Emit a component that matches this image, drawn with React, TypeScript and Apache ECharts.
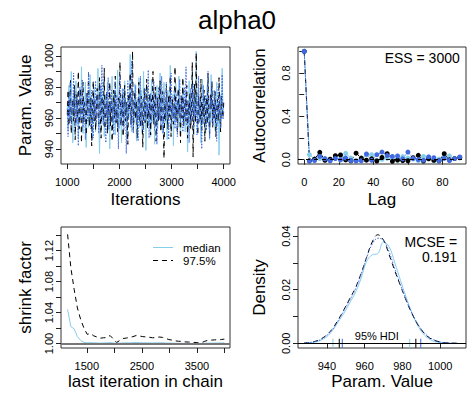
import React, { useEffect, useRef } from "react";
import * as echarts from "echarts";

// ---------------- data ----------------
const TITLE = "alpha0";
const CHAIN_COLORS = ["#87CEEB", "#000000", "#4169E1"];
const CHAIN_DASH: any[] = ["solid", [5, 4], [1.5, 1.5]];

const ITER_FIRST = 1001;
const ITER_LAST = 4000;

const TRACE_CHAIN1 = [
  970, 952, 981, 963, 958, 990, 966, 944, 975, 961, 969, 984, 955, 972, 947, 965, 978, 959, 993, 962,
  950, 971, 967, 983, 941, 960, 976, 954, 968, 988, 957, 973, 946, 964, 980, 962, 951, 974, 969, 992,
  959, 937, 966, 979, 956, 970, 985, 948, 963, 975, 960, 983, 952, 968, 940, 971, 964, 987, 955, 962,
  977, 949, 969, 958, 991, 966, 953, 973, 961, 944, 979, 967, 956, 984, 962, 970, 947, 975, 959, 968,
  1001, 963, 951, 976, 965, 957, 982, 969, 945, 972, 960, 986, 954, 967, 978, 950, 964, 990, 958, 971,
  939, 966, 980, 955, 973, 962, 948, 985, 968, 957, 976, 943, 964, 970, 981, 953, 967, 959, 989, 961,
  974, 950, 966, 983, 956, 971, 963, 946, 978, 960, 968, 994, 952, 965, 975, 942, 969, 957, 982, 963,
  971, 954, 987, 960, 948, 973, 966, 980, 958, 964, 951, 977, 969, 938, 962, 984, 955, 972, 961, 990,
  967, 949, 975, 958, 1003, 965, 953, 979, 960, 970, 944, 968, 985, 956, 963, 974, 950, 966, 981, 959,
  972, 946, 964, 988, 957, 969, 961, 978, 952, 967, 983, 955, 970, 936, 962, 975, 958, 992, 964, 968,
];
const TRACE_CHAIN2 = [
  962, 978, 955, 969, 985, 950, 966, 972, 958, 981, 946, 964, 975, 960, 990, 953, 968, 979, 944, 966,
  983, 957, 970, 962, 949, 976, 965, 988, 955, 960, 973, 942, 968, 984, 958, 971, 952, 966, 979, 963,
  956, 986, 961, 947, 974, 968, 959, 992, 953, 965, 977, 950, 969, 962, 983, 955, 971, 945, 964, 978,
  960, 987, 957, 966, 951, 973, 969, 996, 955, 962, 975, 948, 967, 981, 958, 970, 963, 943, 976, 965,
  989, 956, 968, 1003, 952, 964, 977, 959, 971, 947, 966, 983, 961, 955, 974, 968, 941, 963, 979, 957,
  970, 985, 953, 966, 960, 976, 949, 972, 964, 990, 956, 967, 980, 945, 961, 973, 958, 969, 984, 951,
  965, 977, 962, 934, 970, 958, 982, 966, 953, 975, 961, 987, 948, 968, 972, 956, 964, 993, 959, 967,
  950, 979, 963, 970, 944, 975, 960, 986, 955, 966, 972, 958, 981, 947, 969, 962, 976, 953, 966, 996,
  935, 971, 982, 957, 1002, 963, 949, 974, 966, 958, 985, 952, 969, 961, 978, 945, 967, 973, 956, 989,
  962, 950, 975, 966, 983, 954, 969, 960, 977, 948, 965, 972, 958, 986, 963, 951, 974, 967, 960, 970,
];
const TRACE_CHAIN3 = [
  966, 948, 975, 960, 983, 955, 970, 963, 989, 951, 968, 977, 957, 972, 942, 965, 980, 959, 967, 985,
  954, 971, 962, 946, 976, 966, 958, 990, 961, 969, 953, 978, 964, 947, 973, 960, 984, 956, 968, 975,
  950, 966, 981, 959, 994, 963, 955, 972, 967, 944, 977, 961, 986, 953, 969, 964, 978, 957, 970, 949,
  962, 983, 958, 975, 966, 940, 968, 988, 955, 971, 960, 979, 952, 965, 973, 937, 962, 984, 959, 968,
  976, 954, 997, 963, 950, 970, 966, 981, 957, 964, 945, 974, 961, 987, 955, 968, 972, 951, 965, 979,
  958, 970, 963, 991, 947, 966, 976, 956, 969, 962, 984, 952, 967, 974, 943, 964, 980, 959, 971, 955,
  987, 963, 950, 977, 966, 958, 983, 961, 969, 946, 973, 964, 989, 956, 968, 960, 978, 953, 966, 975,
  948, 970, 962, 985, 957, 968, 974, 951, 966, 980, 959, 993, 955, 964, 971, 944, 967, 979, 958, 963,
  982, 954, 969, 961, 976, 949, 966, 987, 957, 972, 963, 940, 968, 981, 956, 965, 975, 952, 969, 990,
  960, 947, 973, 966, 984, 955, 962, 978, 958, 970, 945, 967, 982, 961, 974, 953, 966, 988, 959, 964,
];
const TRACE_X_TICKS = [1000, 1500, 2000, 2500, 3000, 3500, 4000];
const TRACE_X_LABELS = [1000, 2000, 3000, 4000];
const TRACE_Y_TICKS = [940, 950, 960, 970, 980, 990, 1000];
const TRACE_Y_LABELS = [940, 960, 980, 1000];

const ACF_LAGS = [0, 3, 6, 9, 12, 15, 18, 21, 24, 27, 30, 33, 36, 39, 42, 45, 48, 51, 54, 57, 60, 63, 66, 69, 72, 75, 78, 81, 84, 87, 90];
const ACF_CHAIN1 = [1.0, 0.046, 0.005, 0.01, 0.012, -0.008, 0.02, -0.005, 0.058, 0.015, -0.01, 0.008, 0.045, 0.046, -0.006, 0.002, 0.012, 0.01, -0.004, 0.028, 0.015, 0.006, -0.008, 0.03, 0.024, -0.01, 0.005, 0.018, 0.034, 0.01, 0.015];
const ACF_CHAIN2 = [1.0, -0.01, 0.005, 0.068, -0.006, 0.004, 0.037, 0.043, -0.002, -0.01, 0.06, 0.015, -0.005, 0.008, -0.012, 0.02, 0.055, -0.015, -0.003, -0.008, -0.01, 0.018, 0.04, -0.012, 0.008, -0.006, -0.01, 0.055, -0.002, 0.01, 0.02];
const ACF_CHAIN3 = [1.0, -0.012, -0.008, 0.03, 0.008, -0.01, 0.01, 0.0, 0.015, -0.008, -0.012, -0.01, 0.052, -0.006, 0.046, 0.07, 0.038, 0.03, 0.034, 0.008, 0.07, 0.012, 0.0, -0.006, 0.025, 0.018, -0.01, 0.012, -0.008, 0.01, 0.025];
const ACF_X_TICKS = [0, 20, 40, 60, 80];
const ACF_Y_TICKS = [0, 0.2, 0.4, 0.6, 0.8, 1.0];
const ACF_Y_LABELS = [0, 0.4, 0.8];
const ESS_LABEL = "ESS = 3000";

const SHRINK_ITERS = [1150, 1209, 1269, 1328, 1388, 1447, 1506, 1566, 1625, 1684, 1744, 1803, 1863, 1922, 1981, 2041, 2100, 2159, 2219, 2278, 2338, 2397, 2456, 2516, 2575, 2634, 2694, 2753, 2813, 2872, 2931, 2991, 3050, 3109, 3169, 3228, 3288, 3347, 3406, 3466, 3525, 3584, 3644, 3703, 3763, 3822, 3881, 3941, 4000];
const SHRINK_MEDIAN = [1.044, 1.022, 1.019, 1.009, 1.004, 1.0015, 1.001, 1.0012, 1.001, 1.0008, 1.0006, 1.0008, 1.001, 1.0012, 1.0008, 1.0004, 1.0006, 1.0008, 1.001, 1.001, 1.0012, 1.0014, 1.0012, 1.001, 1.001, 1.0009, 1.0008, 1.0009, 1.001, 1.001, 1.0008, 1.0006, 1.0005, 1.0004, 1.0004, 1.0003, 1.0003, 1.0002, 1.0002, 1.0002, 1.0001, 1.0002, 1.0004, 1.0006, 1.0006, 1.0007, 1.0007, 1.0008, 1.0009];
const SHRINK_97 = [1.141, 1.098, 1.07, 1.046, 1.031, 1.02, 1.012, 1.013, 1.01, 1.0085, 1.007, 1.0075, 1.0078, 1.0104, 1.006, 1.0015, 1.004, 1.0065, 1.0072, 1.0078, 1.009, 1.0104, 1.0098, 1.009, 1.0086, 1.0082, 1.0075, 1.0078, 1.0085, 1.008, 1.0068, 1.0052, 1.0045, 1.0035, 1.003, 1.0028, 1.0022, 1.002, 1.0018, 1.0014, 1.001, 1.0012, 1.003, 1.0042, 1.0045, 1.0048, 1.005, 1.0052, 1.0058];
const SHRINK_X_TICKS = [1500, 2000, 2500, 3000, 3500, 4000];
const SHRINK_X_LABELS = [1500, 2500, 3500];
const SHRINK_Y_TICKS = [1.0, 1.02, 1.04, 1.06, 1.08, 1.1, 1.12, 1.14];
const SHRINK_Y_LABELS = [1.0, 1.04, 1.08, 1.12];
const LEGEND_NAMES = ["median", "97.5%"];

const DENS_X = [928, 931, 934, 937, 940, 943, 946, 949, 952, 955, 958, 961, 964, 967, 970, 973, 976, 979, 982, 985, 988, 991, 994, 997, 1000, 1003, 1006, 1009];
const DENS_CHAIN1 = [0.0, 0.0002, 0.0005, 0.0012, 0.0025, 0.0048, 0.008, 0.0112, 0.015, 0.0188, 0.024, 0.0305, 0.033, 0.0335, 0.0378, 0.036, 0.03, 0.0235, 0.0172, 0.0115, 0.0068, 0.0036, 0.0017, 0.0007, 0.0003, 0.0001, 0.0, 0.0];
const DENS_CHAIN2 = [0.0001, 0.0003, 0.0008, 0.0017, 0.0032, 0.0055, 0.0088, 0.0125, 0.0165, 0.0205, 0.0258, 0.032, 0.0378, 0.0405, 0.0385, 0.033, 0.027, 0.0215, 0.016, 0.0112, 0.0072, 0.0042, 0.0022, 0.0011, 0.0005, 0.0002, 0.0001, 0.0];
const DENS_CHAIN3 = [0.0001, 0.0003, 0.0007, 0.0015, 0.003, 0.0052, 0.0085, 0.0122, 0.016, 0.02, 0.0255, 0.0318, 0.037, 0.0392, 0.0385, 0.034, 0.0278, 0.0218, 0.0162, 0.0113, 0.0074, 0.0044, 0.0024, 0.0012, 0.0005, 0.0002, 0.0001, 0.0];
const HDI_LOW = [943.2, 946.6, 948.2];
const HDI_HIGH = [983.8, 987.1, 989.7];
const HDI_LABEL = "95% HDI";
const MCSE_LABEL = "MCSE =\n 0.191";
const DENS_X_TICKS = [940, 960, 980, 1000];
const DENS_Y_TICKS = [0, 0.01, 0.02, 0.03, 0.04];
const DENS_Y_LABELS = [0, 0.02, 0.04];

// ---------------- chart ----------------
const FONT = "Liberation Sans, Arial, Helvetica, sans-serif";
const AXIS_COLOR = "#222";

function xAx(grid: number, min: number, max: number, ticks: number[], labels: number[], dec: number) {
  return {
    type: "value", gridIndex: grid, min, max,
    axisLine: { show: false },
    splitLine: { show: false },
    axisTick: { show: true, customValues: ticks, length: 5, lineStyle: { color: AXIS_COLOR, width: 1 } },
    axisLabel: { show: true, customValues: labels, margin: 12, fontSize: 11, color: "#000", fontFamily: FONT,
      formatter: (v: number) => v.toFixed(dec) },
  };
}
function yAx(grid: number, min: number, max: number, ticks: number[], labels: number[], dec: number) {
  return {
    type: "value", gridIndex: grid, min, max,
    axisLine: { show: false },
    splitLine: { show: false },
    axisTick: { show: true, customValues: ticks, length: 5, lineStyle: { color: AXIS_COLOR, width: 1 } },
    axisLabel: { show: true, customValues: labels, margin: 7, rotate: 90, fontSize: 11, color: "#000", fontFamily: FONT,
      formatter: (v: number) => v.toFixed(dec) },
  };
}

export default function App() {
  const ref = useRef<HTMLDivElement>(null);
  useEffect(() => {
    if (!ref.current) return;
    document.body.style.margin = "0";
    const chart = echarts.init(ref.current, undefined, { renderer: "svg" });
    const traces = [TRACE_CHAIN1, TRACE_CHAIN2, TRACE_CHAIN3];
    const acfs = [ACF_CHAIN1, ACF_CHAIN2, ACF_CHAIN3];
    const dens = [DENS_CHAIN1, DENS_CHAIN2, DENS_CHAIN3];
    const series: any[] = [];
    traces.forEach((vals, c) => {
      const step = (ITER_LAST - ITER_FIRST) / (vals.length - 1);
      series.push({
        type: "line", name: "trace" + (c + 1), xAxisIndex: 0, yAxisIndex: 0, showSymbol: false, symbol: "none", silent: true,
        data: vals.map((v, i) => [ITER_FIRST + i * step, v]),
        lineStyle: { color: CHAIN_COLORS[c], width: 1, type: CHAIN_DASH[c] },
      });
    });
    acfs.forEach((vals, c) => {
      series.push({
        type: "line", name: "acf" + (c + 1), xAxisIndex: 1, yAxisIndex: 1, symbol: "circle", symbolSize: 5, showSymbol: true, silent: true,
        data: vals.map((v, i) => [ACF_LAGS[i], v]),
        itemStyle: { color: CHAIN_COLORS[c] },
        lineStyle: { color: CHAIN_COLORS[c], width: 1, type: CHAIN_DASH[c] },
        markLine: c === 0 ? { silent: true, symbol: "none", label: { show: false },
          lineStyle: { color: "#000", width: 1, type: [4, 4] }, data: [{ yAxis: 0 }] } : undefined,
      });
    });
    const shrinkStyles = [
      { color: CHAIN_COLORS[0], type: "solid" },
      { color: "#000", type: [5, 4] },
    ];
    [SHRINK_MEDIAN, SHRINK_97].forEach((vals, k) => {
      series.push({
        type: "line", name: LEGEND_NAMES[k], xAxisIndex: 2, yAxisIndex: 2, showSymbol: false, symbol: "none", silent: true,
        data: SHRINK_ITERS.map((x, i) => [x, vals[i]]),
        lineStyle: { color: shrinkStyles[k].color, width: 1, type: shrinkStyles[k].type },
        markLine: k === 0 ? { silent: true, symbol: "none", label: { show: false },
          lineStyle: { color: "#777", width: 2, type: "solid" }, data: [{ yAxis: 1 }] } : undefined,
      });
    });
    dens.forEach((vals, c) => {
      series.push({
        type: "line", name: "dens" + (c + 1), xAxisIndex: 3, yAxisIndex: 3, showSymbol: false, symbol: "none", silent: true, smooth: 0.4,
        data: vals.map((v, i) => [DENS_X[i], v]),
        lineStyle: { color: CHAIN_COLORS[c], width: 1, type: CHAIN_DASH[c] },
        markLine: c === 0 ? { silent: true, symbol: "none", label: { show: false },
          lineStyle: { color: "#000", width: 1, type: "solid" }, data: [{ yAxis: 0 }] } : undefined,
      });
    });
    series.push({
      type: "scatter", name: "hdi", xAxisIndex: 3, yAxisIndex: 3, silent: true, symbol: "rect", symbolSize: [1.3, 9],
      data: [0, 1, 2].flatMap((c) => [
        { value: [HDI_LOW[c], 0], itemStyle: { color: CHAIN_COLORS[c] } },
        { value: [HDI_HIGH[c], 0], itemStyle: { color: CHAIN_COLORS[c] } },
      ]),
    });

    const grids = [
      { left: 61, top: 47, width: 169, height: 117 },
      { left: 298, top: 47, width: 168, height: 117 },
      { left: 61, top: 227, width: 169, height: 121 },
      { left: 298, top: 227, width: 168, height: 121 },
    ].map((g) => ({ ...g, show: true, borderColor: "#333", borderWidth: 1, backgroundColor: "transparent" }));

    chart.setOption({
      animation: false,
      textStyle: { fontFamily: FONT },
      grid: grids,
      xAxis: [
        xAx(0, 880, 4120, TRACE_X_TICKS, TRACE_X_LABELS, 0),
        xAx(1, -3.6, 93.6, ACF_X_TICKS, ACF_X_TICKS, 0),
        xAx(2, 1030, 4102, SHRINK_X_TICKS, SHRINK_X_LABELS, 0),
        xAx(3, 924.7, 1013.7, DENS_X_TICKS, DENS_X_TICKS, 0),
      ],
      yAxis: [
        yAx(0, 930.3, 1005.8, TRACE_Y_TICKS, TRACE_Y_LABELS, 0),
        yAx(1, -0.04, 1.04, ACF_Y_TICKS, ACF_Y_LABELS, 1),
        yAx(2, 0.9943, 1.1505, SHRINK_Y_TICKS, SHRINK_Y_LABELS, 2),
        yAx(3, -0.00175, 0.0434, DENS_Y_TICKS, DENS_Y_LABELS, 2),
      ],
      series,
    });

    const px = (grid: number, pt: number[]) => chart.convertToPixel({ gridIndex: grid } as any, pt) as number[];
    const ess = px(1, [Math.max(...ACF_LAGS), Math.max(...ACF_CHAIN1, ...ACF_CHAIN2, ...ACF_CHAIN3)]);
    const allDens = [...DENS_CHAIN1, ...DENS_CHAIN2, ...DENS_CHAIN3];
    const mcse = px(3, [Math.max(...DENS_X), Math.max(...allDens)]);
    const hdiMean = [...HDI_LOW, ...HDI_HIGH].reduce((a, b) => a + b, 0) / 6;
    const hdi = px(3, [hdiMean, 0]);

    const t = (text: string, x: number, y: number, size: number, opts: any = {}) => ({
      type: "text", x, y, rotation: opts.rot || 0, silent: true,
      style: { text, fontSize: size, fontFamily: FONT, fill: "#000", align: opts.align || "center",
        verticalAlign: opts.va || "middle", lineHeight: opts.lh },
    });
    const legendItems = LEGEND_NAMES.flatMap((name, k) => {
      const y = 247.5 + k * 13;
      return [
        { type: "line", silent: true, shape: { x1: 153, y1: y, x2: 173, y2: y },
          style: { stroke: shrinkStyles[k].color, lineWidth: 1, lineDash: k === 0 ? null : [5, 4] } },
        t(name, 183, y, 11.5, { align: "left" }),
      ];
    });
    chart.setOption({
      graphic: [
        t(TITLE, 237, 20, 26),
        t("Param. Value", 25, 105.5, 17, { rot: Math.PI / 2 }),
        t("Iterations", 145.5, 199, 17),
        t("Autocorrelation", 259, 105.5, 17, { rot: Math.PI / 2 }),
        t("Lag", 382, 199, 17),
        t("shrink factor", 25, 287.5, 17, { rot: Math.PI / 2 }),
        t("last iteration in chain", 145.5, 381, 17),
        t("Density", 259, 287.5, 17, { rot: Math.PI / 2 }),
        t("Param. Value", 382, 381, 17),
        t(ESS_LABEL, ess[0], ess[1], 14, { align: "right", va: "top" }),
        t(MCSE_LABEL, mcse[0], mcse[1], 14, { align: "right", va: "top", lh: 15 }),
        t(HDI_LABEL, hdi[0], hdi[1] - 2, 11, { va: "bottom" }),
        ...legendItems,
      ],
    });
    return () => chart.dispose();
  }, []);
  return <div ref={ref} style={{ width: 474, height: 395 }} />;
}
